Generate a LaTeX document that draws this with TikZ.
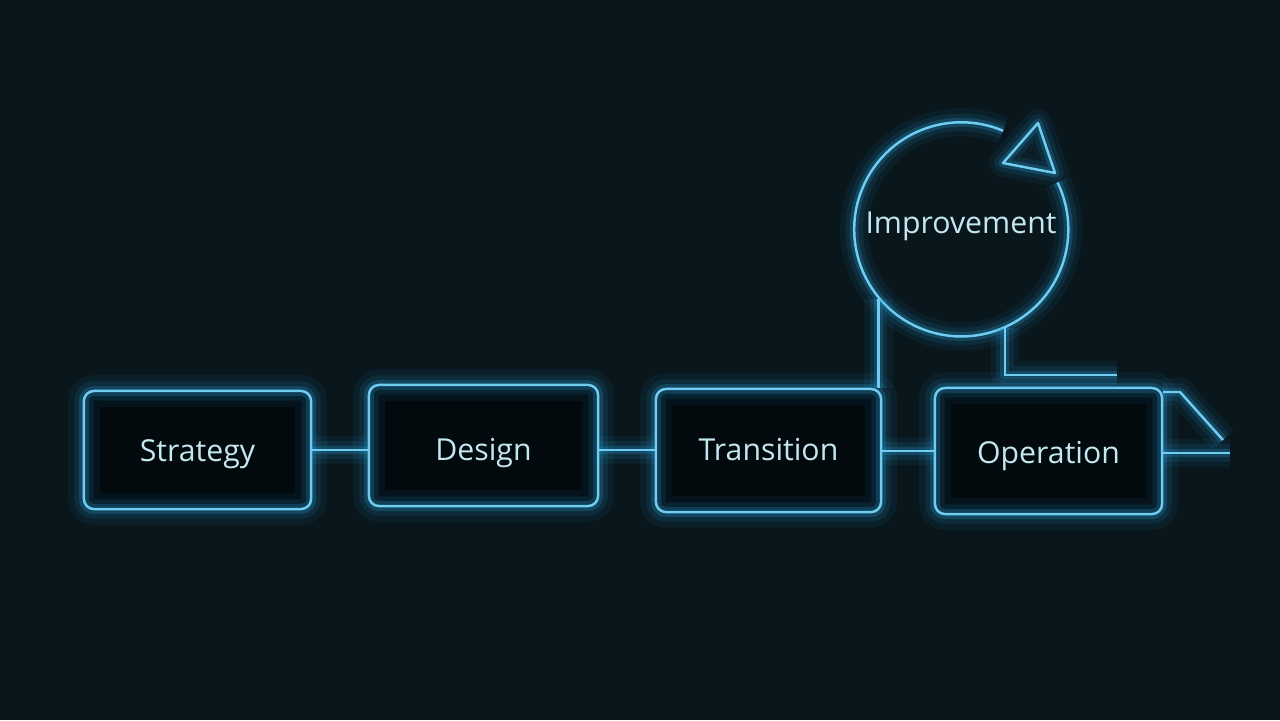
\documentclass[tikz,border=0pt]{standalone}
\usepackage{fontspec}
\setmainfont{Open Sans}
\definecolor{bg}{RGB}{9,22,28}
\definecolor{boxfill}{RGB}{3,10,14}
\definecolor{neon}{RGB}{110,205,240}
\definecolor{glow}{RGB}{40,160,220}
\definecolor{txt}{RGB}{195,232,242}
\newcommand\lowered[2]{\raisebox{-#1}{#2}}
\tikzset{
  stagebox/.style={rectangle, rounded corners=1mm, fill=boxfill, text=txt,
    font=\fontsize{8.6}{10}\selectfont, inner sep=0pt, text height=0pt, text depth=0pt,
    postaction={draw=glow, line width=9pt, opacity=0.07},
    postaction={draw=glow, line width=5.5pt, opacity=0.11},
    postaction={draw=glow, line width=2.8pt, opacity=0.22},
    postaction={draw=neon, line width=0.7pt}},
  ring/.style={circle, text=txt, font=\fontsize{8.6}{10}\selectfont, inner sep=0pt,
    text height=0pt, text depth=0pt},
  neonline/.style={draw=neon, line width=0.7pt,
    preaction={draw=glow, line width=8pt, opacity=0.07, line join=round},
    preaction={draw=glow, line width=5pt, opacity=0.11, line join=round},
    preaction={draw=glow, line width=2.5pt, opacity=0.22, line join=round}}
}
\begin{document}
\begin{tikzpicture}[x=0.01cm, y=0.01cm]
\fill[bg] (0,0) rectangle (1280,720);
\useasboundingbox (0,0) rectangle (1280,720);

\node[stagebox, minimum width=2.27cm, minimum height=1.18cm] (strategy) at (197.5,270) {\lowered{0.11cm}{Strategy}};
\node[stagebox, minimum width=2.29cm, minimum height=1.21cm] (design) at (483.5,274.5) {\lowered{0.145cm}{Design}};
\node[stagebox, minimum width=2.25cm, minimum height=1.23cm] (transition) at (768.5,269.5) {\lowered{0.095cm}{Transition}};
\node[stagebox, minimum width=2.27cm, minimum height=1.26cm] (operation) at (1048.5,269) {\lowered{0.12cm}{Operation}};
\node[ring, minimum size=2.14cm] (improve) at (961,490) {\lowered{0.03cm}{Improvement}};

% circle arc with gap and arrowhead
\draw[neonline] (improve.67) arc[start angle=67, end angle=386, radius=1.07cm];
\draw[neonline, line join=round] (1003,557) -- (1038,597) -- (1055,547) -- cycle;

% connectors between stages
\draw[neonline] (strategy.east) -- (strategy.east -| design.west);
\draw[neonline] (design.east |- 0,270) -- (transition.west |- 0,270);
\draw[neonline] (transition.east |- 0,269) -- (operation.west |- 0,269);

% links from improvement
\draw[neonline] (improve.220) -- (improve.220 |- transition.north);
\coordinate (impend) at (1117,345);
\draw[neonline] (improve.294) |- (impend);

% operation outputs
\coordinate (optip) at (1223,280);
\coordinate (opout) at (1230,267);
\draw[neonline] (operation.east |- 0,328) -- (1180,328) -- (optip);
\draw[neonline] (operation.east |- 0,267) -- (opout);
\end{tikzpicture}
\end{document}
